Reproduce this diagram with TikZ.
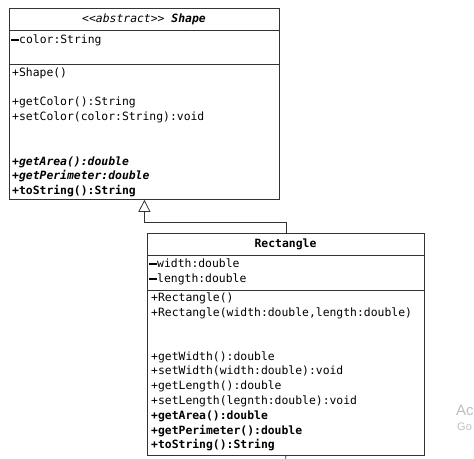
\documentclass[tikz,border=0pt]{standalone}
\usepackage{fontspec}
\setmonofont{DejaVu Sans Mono}
\setsansfont{Liberation Sans}
\usetikzlibrary{arrows.meta}
\newcommand{\privbar}{\rule[0.26em]{8pt}{2.2pt}}
\begin{document}
\begin{tikzpicture}[x=1pt,y=-1pt,
  box/.style={draw=black!80, line width=0.8pt, anchor=north west, inner sep=0pt},
  sep/.style={draw=black!80, line width=0.8pt},
  txt/.style={anchor=west, inner sep=0pt, yshift=-1.2pt, font=\ttfamily\fontsize{11.4pt}{14pt}\selectfont, text height=8pt, text depth=2.5pt},
  ttl/.style={txt, anchor=center},
  wm/.style={anchor=west, inner sep=0pt, text=black!25, font=\sffamily}
]
\useasboundingbox[fill=white] (0,0) rectangle (474,458);

% Shape class
\node[box, minimum width=270pt, minimum height=191pt] (shape) at (9,8) {};
\draw[sep] (9,30) -- (279,30);
\draw[sep] (9,64) -- (279,64);
\node[ttl] (shapetitle) at (144,19) {\textit{<<abstract>>} \textbf{\textit{Shape}}};
\node[txt] (sa1) at (11,40) {\privbar color:String};
\node[txt] (sm1) at (12,73) {+Shape()};
\node[txt] (sm2) at (12,102) {+getColor():String};
\node[txt] (sm3) at (12,117) {+setColor(color:String):void};
\node[txt] (sm4) at (12,162) {\textbf{\textit{+getArea():double}}};
\node[txt] (sm5) at (12,176) {\textbf{\textit{+getPerimeter:double}}};
\node[txt] (sm6) at (12,191) {\textbf{+toString():String}};

% Rectangle class
\node[box, minimum width=277pt, minimum height=222pt] (rect) at (147,233) {};
\draw[sep] (147,255) -- (424,255);
\draw[sep] (147,290) -- (424,290);
\node[ttl] (recttitle) at (285.5,244) {\textbf{Rectangle}};
\node[txt] (ra1) at (149,264) {\privbar width:double};
\node[txt] (ra2) at (149,279) {\privbar length:double};
\node[txt] (rm1) at (151,298) {+Rectangle()};
\node[txt] (rm2) at (151,313) {+Rectangle(width:double,length:double)};
\node[txt] (rm3) at (151,357) {+getWidth():double};
\node[txt] (rm4) at (151,371) {+setWidth(width:double):void};
\node[txt] (rm5) at (151,386) {+getLength():double};
\node[txt] (rm6) at (151,401) {+setLength(legnth:double):void};
\node[txt] (rm7) at (151,416) {\textbf{+getArea():double}};
\node[txt] (rm8) at (151,431) {\textbf{+getPerimeter():double}};
\node[txt] (rm9) at (151,445) {\textbf{+toString():String}};

% generalization
\draw[sep, -{Triangle[open, width=12pt, length=12pt]}] (rect.north) -- ++(0,-11) -| (shape.south);
\coordinate (stub) at (285.5,462);
\draw[sep] (rect.south) -- (stub);

% watermark
\node[wm, font=\sffamily\fontsize{15pt}{16pt}\selectfont] (wm1) at (456,410) {Ac};
\node[wm, font=\sffamily\fontsize{11pt}{12pt}\selectfont] (wm2) at (457,427) {Go};
\end{tikzpicture}
\end{document}
